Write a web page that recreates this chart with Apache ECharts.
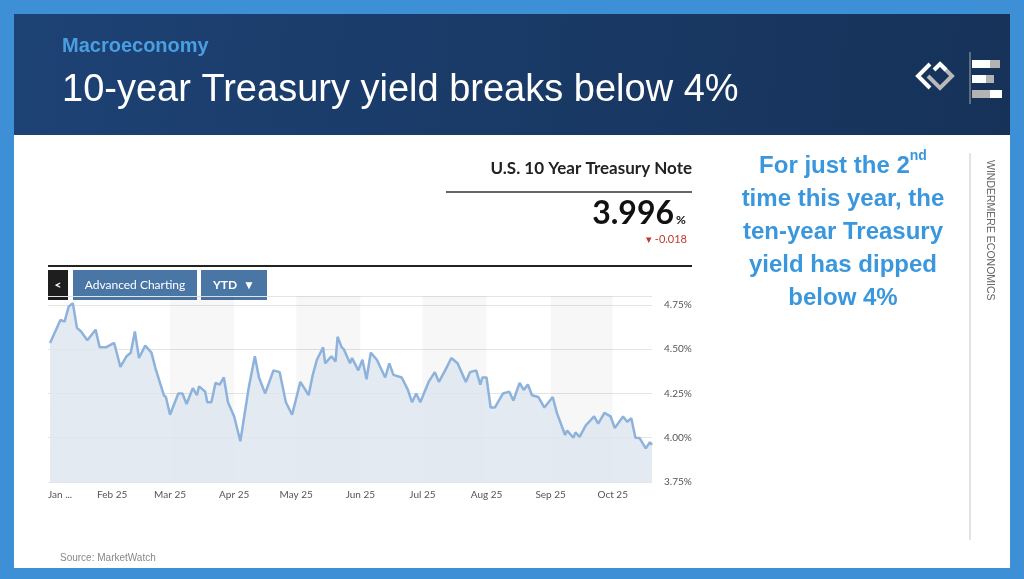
<!DOCTYPE html>
<html><head><meta charset="utf-8">
<script src="https://cdn.jsdelivr.net/npm/echarts@6/dist/echarts.min.js"></script>
<style>html,body{margin:0;padding:0;background:#3d8fd6}#c{width:1024px;height:579px}</style>
</head><body><div id="c"></div>
<script>
// Day-of-year (2025) and 10y yield (%)
const days = [2,7,9,11,13,15,17,20,24,26,29,33,36,39,41,43,45,48,51,53,57,58,60,64,66,68,71,73,74,77,78,80,82,84,86,88,91,94,98,101,103,106,110,113,116,119,123,127,129,131,134,135,138,140,141,143,144,147,148,151,153,155,157,160,164,166,168,172,175,177,179,181,185,188,190,193,196,199,203,205,208,210,211,213,215,217,221,224,226,229,231,233,235,238,241,245,247,251,252,255,256,258,261,265,267,270,273,275,279,281,283,285,287,290,292,293];
const yields = [4.535,4.665,4.655,4.74,4.76,4.62,4.60,4.55,4.61,4.51,4.51,4.535,4.40,4.46,4.48,4.60,4.45,4.52,4.48,4.39,4.24,4.23,4.13,4.25,4.25,4.19,4.28,4.24,4.29,4.26,4.20,4.20,4.31,4.30,4.34,4.20,4.12,3.98,4.28,4.46,4.34,4.25,4.38,4.37,4.20,4.13,4.315,4.24,4.355,4.44,4.51,4.42,4.46,4.43,4.57,4.51,4.50,4.42,4.45,4.38,4.44,4.33,4.48,4.44,4.34,4.42,4.355,4.34,4.27,4.20,4.25,4.20,4.315,4.37,4.315,4.38,4.45,4.42,4.315,4.37,4.38,4.30,4.34,4.34,4.17,4.17,4.25,4.26,4.21,4.31,4.27,4.30,4.24,4.23,4.17,4.23,4.14,4.015,4.04,4.00,4.03,4.005,4.07,4.12,4.08,4.14,4.12,4.055,4.12,4.09,4.11,4.00,3.998,3.94,3.975,3.96];
const monthNames = ['Jan','Feb','Mar','Apr','May','Jun','Jul','Aug','Sep','Oct','Nov'];
const shadedMonths = [2,4,6,8]; // Mar, May, Jul, Sep (0-based)
const yTicks = [3.75,4.00,4.25,4.50,4.75];

const T = d => Date.UTC(2025,0,d);
const data = days.map((d,i)=>[T(d), yields[i]]);
const mStart = m => Date.UTC(2025,m,1);
const bands = shadedMonths.map(m=>[{xAxis:mStart(m)},{xAxis:mStart(m+1)}]);

const chart = echarts.init(document.getElementById('c'));
const W = 1024;
chart.setOption({
  backgroundColor:'#3d8fd6',
  animation:false,
  grid:{left:48,right:W-652,top:296,bottom:97},
  xAxis:{type:'time',min:T(1),max:T(293),
    minInterval:28*864e5,maxInterval:31*864e5,
    axisLine:{show:false},axisTick:{show:false},splitLine:{show:false},
    axisLabel:{color:'#555',fontSize:10,fontFamily:'Lato',margin:8,showMinLabel:true,showMaxLabel:false,
      formatter:v=>{const d=new Date(v);const m=d.getUTCMonth();if(m===0)return 'Jan ...';return monthNames[m]+' 25';},
      alignMinLabel:'left'}},
  yAxis:{type:'value',position:'right',min:3.75,max:4.8,interval:0.25,
    axisLine:{show:false},axisTick:{show:false},
    splitLine:{lineStyle:{color:'#e4e4e4'}},
    axisLabel:{color:'#555',fontSize:10,fontFamily:'Lato',margin:12,
      formatter:v=>yTicks.some(t=>Math.abs(t-v)<1e-6)?v.toFixed(2)+'%':''}},
  series:[{type:'line',data:data,symbol:'none',
    lineStyle:{color:'#8db2dc',width:2.5},
    areaStyle:{color:'#dfe6ee',opacity:0.85},
    markArea:{silent:true,itemStyle:{color:'rgba(0,0,0,0.03)'},data:bands}}],
  graphic:[
    {type:'rect',z:-10,shape:{x:14,y:135,width:996,height:433},style:{fill:'#fff'}},
    {type:'rect',z:-5,shape:{x:14,y:14,width:996,height:121},style:{fill:new echarts.graphic.LinearGradient(0,0,1,1,[{offset:0,color:'#1d4274'},{offset:1,color:'#163259'}])}},
    {type:'text',left:62,top:36,style:{text:'Macroeconomy',fill:'#4a9fe2',font:'bold 20px Arial, Liberation Sans'}},
    {type:'text',left:62,top:72,style:{text:'10-year Treasury yield breaks below 4%',fill:'#fff',font:'38px Arial, Liberation Sans'}},
    {type:'polyline',shape:{points:[[930,64],[918,76],[930,88]]},style:{stroke:'#fff',lineWidth:4,fill:null}},
    {type:'polyline',shape:{points:[[928,76],[940,88],[952,76],[940,64]]},style:{stroke:'#b9b9b9',lineWidth:4,fill:null}},
    {type:'polyline',shape:{points:[[934,70],[940,64],[946,70]]},style:{stroke:'#fff',lineWidth:4,fill:null}},
    {type:'line',shape:{x1:970,y1:52,x2:970,y2:104},style:{stroke:'#aaa',lineWidth:1}},
    {type:'rect',shape:{x:972,y:60,width:18,height:8},style:{fill:'#fff'}},
    {type:'rect',shape:{x:990,y:60,width:10,height:8},style:{fill:'#b3b3b3'}},
    {type:'rect',shape:{x:972,y:75,width:14,height:8},style:{fill:'#fff'}},
    {type:'rect',shape:{x:986,y:75,width:8,height:8},style:{fill:'#b3b3b3'}},
    {type:'rect',shape:{x:972,y:90,width:18,height:8},style:{fill:'#b3b3b3'}},
    {type:'rect',shape:{x:990,y:90,width:12,height:8},style:{fill:'#fff'}},
    {type:'text',right:W-692,top:160,style:{text:'U.S. 10 Year Treasury Note',fill:'#222',font:'bold 17px Lato',align:'right'}},
    {type:'line',shape:{x1:446,y1:192,x2:692,y2:192},style:{stroke:'#333',lineWidth:1.5}},
    {type:'text',right:W-674,top:198,style:{text:'3.996',fill:'#111',font:'bold 32px Lato'}},
    {type:'text',left:676,top:214,style:{text:'%',fill:'#111',font:'bold 12px Lato'}},
    {type:'text',right:W-687,top:234,style:{text:'▾ -0.018',fill:'#c0392b',font:'11px Lato'}},
    {type:'line',shape:{x1:48,y1:266,x2:692,y2:266},style:{stroke:'#222',lineWidth:2}},
    {type:'rect',shape:{x:48,y:270,width:20,height:30},style:{fill:'#1e1e1e'}},
    {type:'text',x:58,y:285,style:{text:'<',fill:'#fff',font:'bold 12px Lato',align:'center',verticalAlign:'middle'}},
    {type:'rect',shape:{x:73,y:270,width:124,height:30},style:{fill:'#4a76a6'}},
    {type:'text',x:135,y:285,style:{text:'Advanced Charting',fill:'#fff',font:'12px Lato',align:'center',verticalAlign:'middle'}},
    {type:'rect',shape:{x:201,y:270,width:66,height:30},style:{fill:'#4a76a6'}},
    {type:'text',x:234,y:285,style:{text:'YTD  ▼',fill:'#fff',font:'bold 12px Lato',align:'center',verticalAlign:'middle'}},
    {type:'text',x:843,y:232,style:{text:'For just the 2{sup|nd}\ntime this year, the\nten-year Treasury\nyield has dipped\nbelow 4%',fill:'#3a97dd',font:'bold 24px Arial, Liberation Sans',align:'center',verticalAlign:'middle',lineHeight:33,rich:{sup:{fontSize:14,fontWeight:'bold',verticalAlign:'top',lineHeight:20,fill:'#3a97dd'}}}},
    {type:'line',shape:{x1:970,y1:153,x2:970,y2:540},style:{stroke:'#c8c8c8',lineWidth:1}},
    {type:'text',x:990,y:160,rotation:-Math.PI/2,style:{text:'WINDERMERE ECONOMICS',fill:'#666',font:'10.5px Arial, Liberation Sans',verticalAlign:'middle'}},
    {type:'text',left:60,top:553,style:{text:'Source: MarketWatch',fill:'#888',font:'10px Arial, Liberation Sans'}}
  ]
});
</script></body></html>
